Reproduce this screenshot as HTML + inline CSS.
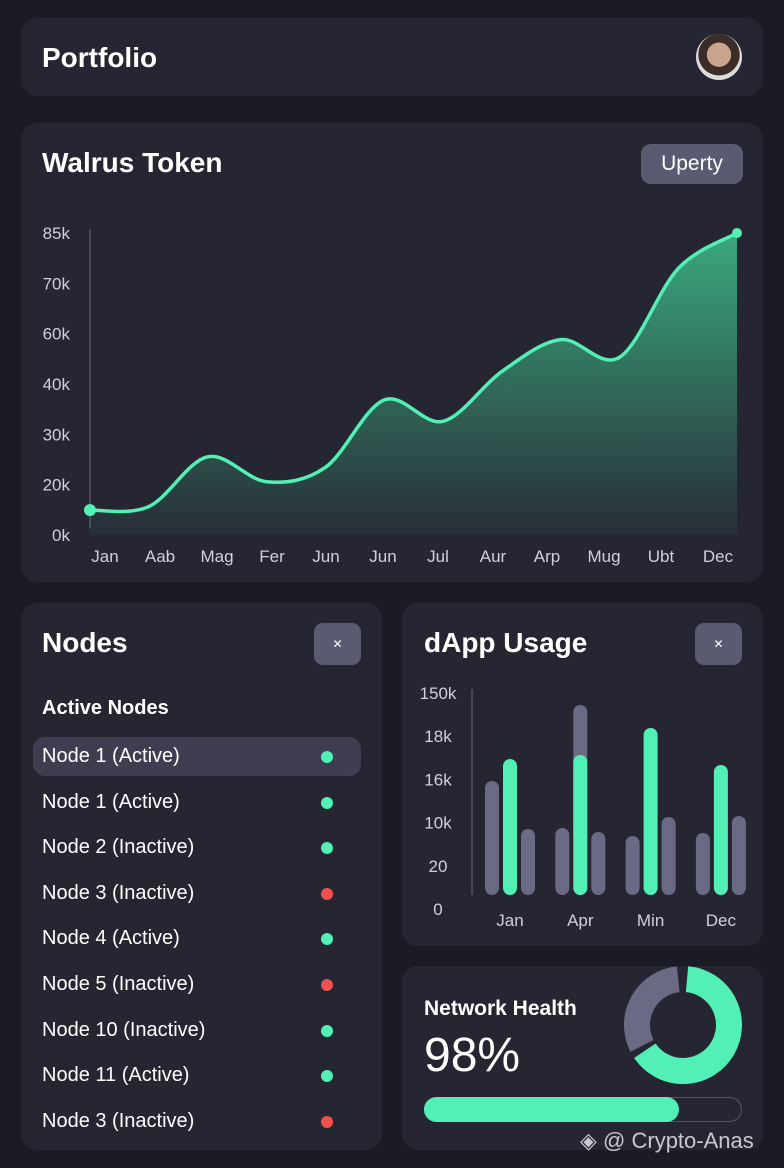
<!DOCTYPE html>
<html><head><meta charset="utf-8"><style>
*{margin:0;padding:0;box-sizing:border-box}
body{width:784px;height:1168px;background:#1b1b25;font-family:"Liberation Sans",sans-serif;color:#fff;position:relative;overflow:hidden}
.card{position:absolute;background:#262633;border-radius:16px}
.t{position:absolute;white-space:nowrap}
</style></head><body>
<div class="card" style="left:21px;top:18px;width:742px;height:78px"></div>
<div class="t" style="left:42px;top:42px;font-size:28px;font-weight:700">Portfolio</div>
<div style="position:absolute;left:696px;top:34px;width:46px;height:46px;border-radius:50%;background:radial-gradient(circle at 50% 45%,#c9a58f 0 35%,#3a2c28 36% 60%,#dcdcdc 61%)"></div>

<div class="card" style="left:21px;top:123px;width:742px;height:459px"></div>
<div class="t" style="left:42px;top:147px;font-size:28px;font-weight:700">Walrus Token</div>
<div style="position:absolute;left:641px;top:144px;width:102px;height:40px;border-radius:10px;background:#5a5a70;font-size:21px;line-height:40px;text-align:center">Uperty</div>
<svg id="lc" style="position:absolute;left:0;top:0" width="784" height="600">
<defs><linearGradient id="g1" x1="0" y1="0" x2="0" y2="1"><stop offset="0" stop-color="#3fbf8a" stop-opacity="0.85"/><stop offset="1" stop-color="#3fbf8a" stop-opacity="0.05"/></linearGradient></defs>
</svg>

<div class="card" style="left:21px;top:603px;width:361px;height:547px"></div>
<div class="t" style="left:42px;top:627px;font-size:28px;font-weight:700">Nodes</div>
<div style="position:absolute;left:314px;top:623px;width:47px;height:42px;border-radius:9px;background:#5a5a70;text-align:center;line-height:42px;font-size:12px">✕</div>
<div class="t" style="left:42px;top:697px;font-size:20px;font-weight:700">Active Nodes</div>
<div id="nodes"></div>

<div class="card" style="left:402px;top:603px;width:361px;height:343px"></div>
<div class="t" style="left:424px;top:627px;font-size:28px;font-weight:700">dApp Usage</div>
<div style="position:absolute;left:695px;top:623px;width:47px;height:42px;border-radius:9px;background:#5a5a70;text-align:center;line-height:42px;font-size:12px">✕</div>
<svg id="bc" style="position:absolute;left:0;top:0" width="784" height="950"></svg>

<div class="card" style="left:402px;top:966px;width:361px;height:184px"></div>
<div class="t" style="left:424px;top:997px;font-size:21px;font-weight:700">Network Health</div>
<div class="t" style="left:424px;top:1028px;font-size:48px;font-weight:500">98%</div>
<svg style="position:absolute;left:0;top:0" width="784" height="1168">
<path d="" id="dg" fill="none" stroke="#6a6a85" stroke-width="26"/>
<path d="" id="dgr" fill="none" stroke="#52f0b4" stroke-width="26"/>
<rect x="424.5" y="1097.5" width="317" height="24" rx="12" fill="none" stroke="#55556a"/>
<rect x="424" y="1097" width="255" height="25" rx="12.5" fill="#52f0b4"/>
</svg>
<div class="t" style="left:580px;top:1128px;font-size:22px;color:#c8c8d0">◈ @ Crypto-Anas</div>

<script>
const NS="http://www.w3.org/2000/svg";
function mk(p,tag,a){const e=document.createElementNS(NS,tag);for(const k in a)e.setAttribute(k,a[k]);p.appendChild(e);return e;}
// line chart data
const months=["Jan","Aab","Mag","Fer","Jun","Jun","Jul","Aur","Arp","Mug","Ubt","Dec"];
const tokenValues=[7,8,22,15,19,38,32,46,55,50,75,85];
const yTickLabels=["0k","20k","30k","40k","60k","70k","85k"];
const yMax=85;
const lc=document.getElementById('lc');
const X0=90,X1=737,Y0=535,Y1=233;
const xs=i=>X0+(X1-X0)*i/(tokenValues.length-1);
const ys=v=>Y0-(Y0-Y1)*v/yMax;
yTickLabels.forEach((l,i)=>{const t=mk(lc,'text',{x:70,y:Y0-(Y0-Y1)*i/(yTickLabels.length-1)+6,'text-anchor':'end','font-size':17,fill:'#d0d0da'});t.textContent=l;

});
const ax=mk(lc,'line',{x1:90,y1:229,x2:90,y2:528,stroke:'#6a6a7a'});


const labX=[105,160,217,272,326,383,438,493,547,604,661,718];
months.forEach((m,i)=>{const t=mk(lc,'text',{x:labX[i],y:562,'text-anchor':'middle','font-size':17,fill:'#d0d0da'});t.textContent=m;

});
const P=tokenValues.map((v,i)=>[xs(i),ys(v)]);
let d=`M${P[0][0]},${P[0][1]}`;
for(let i=0;i<P.length-1;i++){const p0=P[Math.max(0,i-1)],p1=P[i],p2=P[i+1],p3=P[Math.min(P.length-1,i+2)];
d+=` C${p1[0]+(p2[0]-p0[0])/6},${p1[1]+(p2[1]-p0[1])/6} ${p2[0]-(p3[0]-p1[0])/6},${p2[1]-(p3[1]-p1[1])/6} ${p2[0]},${p2[1]}`;}
const area=mk(lc,'path',{d:d+` L${X1},${Y0} L${X0},${Y0} Z`,fill:'url(#g1)'});


const ln=mk(lc,'path',{d:d,fill:'none',stroke:'#52f0b4','stroke-width':3.5});


[0,P.length-1].forEach(i=>{const c=mk(lc,'circle',{cx:P[i][0],cy:P[i][1],r:i?5:6,fill:'#52f0b4'});

});

// nodes
const nodeNames=["Node 1 (Active)","Node 1 (Active)","Node 2 (Inactive)","Node 3 (Inactive)","Node 4 (Active)","Node 5 (Inactive)","Node 10 (Inactive)","Node 11 (Active)","Node 3 (Inactive)"];
const nodeStatus=[1,1,1,0,1,0,1,1,0];
const nodes=document.getElementById('nodes');
nodeNames.forEach((n,i)=>{const y=757+i*45.6;
const row=document.createElement('div');


row.style.cssText=`position:absolute;left:33px;top:${y-20}px;width:328px;height:39px;border-radius:12px;${i==0?'background:#3e3e50;':''}`;
row.innerHTML=`<span style="position:absolute;left:9px;top:8px;font-size:20px">${n}</span><span style="position:absolute;left:288px;top:14px;width:12px;height:12px;border-radius:50%;background:${nodeStatus[i]?'#52f0b4':'#f0504e'}"></span>`;
nodes.appendChild(row);});

// bar chart
const barCats=["Jan","Apr","Min","Dec"];
const seriesA=[114,67,59,62];
const seriesBack=[0,190,0,0];
const seriesGreen=[136,140,167,130];
const seriesC=[66,63,78,79];
const barTicks=["0","20","10k","16k","18k","150k"];
const bMax=210;
const bc=document.getElementById('bc');
const BY0=895,BY1=685;
const by=v=>BY0-(BY0-BY1)*v/bMax;
barTicks.forEach((l,i)=>{const t=mk(bc,'text',{x:438,y:915-i*43.2,'text-anchor':'middle','font-size':17,fill:'#d0d0da'});t.textContent=l;

});
const bax=mk(bc,'line',{x1:472,y1:689,x2:472,y2:895,stroke:'#6a6a7a'});


const gx=i=>510+i*70.3;
function bar(x,v,col,name){if(v<=0)return;const r=mk(bc,'rect',{x:x-7,y:by(v),width:14,height:BY0-by(v),rx:7,fill:col});

}
barCats.forEach((c,i)=>{const cx=gx(i);
bar(cx-18,seriesA[i],'#6a6a85','bar-series-a');
bar(cx,seriesBack[i],'#6a6a85','bar-series-back');
bar(cx,seriesGreen[i],'#52f0b4','bar-series-green');
bar(cx+18,seriesC[i],'#6a6a85','bar-series-c');
const t=mk(bc,'text',{x:cx,y:926,'text-anchor':'middle','font-size':17,fill:'#d0d0da'});t.textContent=c;

});

// donut
const cx=683,cy=1025,R=46;
function arc(a0,a1){const p=a=>[cx+R*Math.sin(a*Math.PI/180),cy-R*Math.cos(a*Math.PI/180)];const s=p(a0),e=p(a1);
return `M${s[0]},${s[1]} A${R},${R} 0 ${a1-a0>180?1:0} 1 ${e[0]},${e[1]}`;}
document.getElementById('dgr').setAttribute('d',arc(5,236));
document.getElementById('dg').setAttribute('d',arc(243,354));
</script>
</body></html>
